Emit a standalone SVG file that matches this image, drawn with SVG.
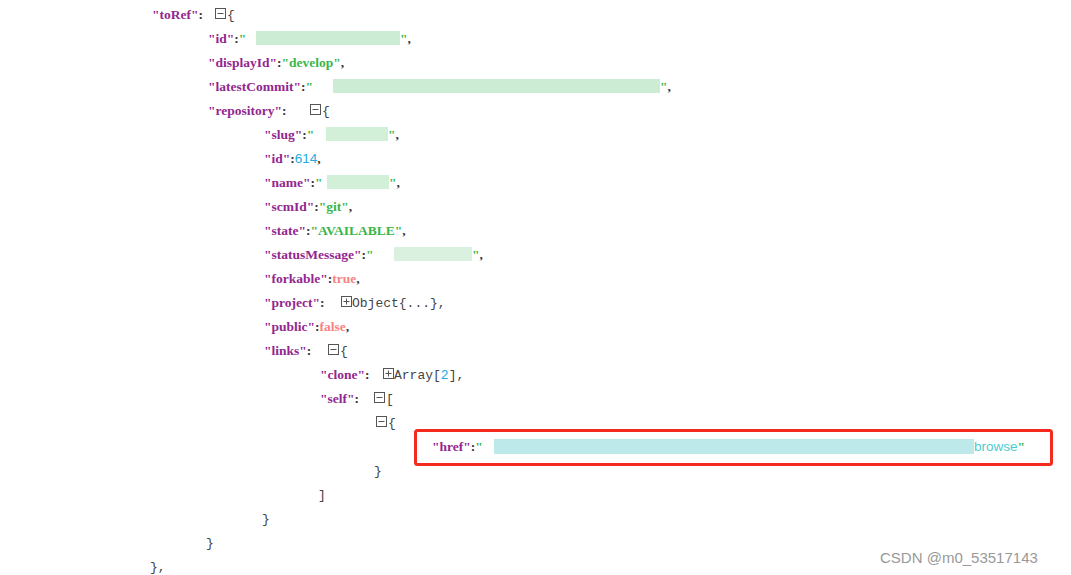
<svg xmlns="http://www.w3.org/2000/svg" width="1071" height="575" viewBox="0 0 1071 575">
<style>
text{font-family:"Liberation Serif","DejaVu Serif",serif;font-size:13.5px;font-weight:bold;fill:#333}
.k{fill:#92278f}.s{fill:#3ab54a}.n{fill:#25aae1;font-family:"Liberation Sans",sans-serif;font-weight:normal}.b{fill:#f98280}
.p{font-weight:normal;font-family:"Liberation Mono",monospace;font-size:13px;fill:#444}
.c{fill:#4ecbd0;font-family:"Liberation Sans",sans-serif;font-weight:normal}
.bg{fill:#bfe8c8}.bc{fill:#bde9ea}
</style>
<defs>
<symbol id="minus" viewBox="0 0 11 11"><rect x="0.5" y="0.5" width="10" height="10" fill="none" stroke="#555"/><line x1="2.5" y1="5.5" x2="8.5" y2="5.5" stroke="#555"/></symbol>
<symbol id="plus" viewBox="0 0 11 11"><rect x="0.5" y="0.5" width="10" height="10" fill="none" stroke="#555"/><line x1="2.5" y1="5.5" x2="8.5" y2="5.5" stroke="#555"/><line x1="5.5" y1="2.5" x2="5.5" y2="8.5" stroke="#555"/></symbol>
</defs>
<rect width="1071" height="575" fill="#fff"/>
<g id="blur">
<rect class="bg" x="256" y="31" width="144" height="14" opacity="0.8"/>
<rect class="bg" x="333" y="79" width="327" height="14" opacity="0.8"/>
<rect class="bg" x="326" y="127" width="62" height="14" opacity="0.7"/>
<rect class="bg" x="327" y="175" width="62" height="14" opacity="0.7"/>
<rect class="bg" x="394" y="247" width="78" height="14" opacity="0.6"/>
<rect class="bc" x="494" y="439" width="480" height="15"/>
</g>
<text x="152" y="19"><tspan class="k">"toRef"</tspan>:</text><use href="#minus" x="215" y="8" width="11" height="11"/><text class="p" x="227" y="19">{</text>
<text x="208" y="43"><tspan class="k">"id"</tspan>:<tspan class="s">"</tspan></text><text x="400" y="43"><tspan class="s">"</tspan>,</text>
<text x="208" y="67"><tspan class="k">"displayId"</tspan>:<tspan class="s">"develop"</tspan>,</text>
<text x="208" y="91"><tspan class="k">"latestCommit"</tspan>:<tspan class="s">"</tspan></text><text x="660" y="91"><tspan class="s">"</tspan>,</text>
<text x="208" y="115"><tspan class="k">"repository"</tspan>:</text><use href="#minus" x="310" y="104" width="11" height="11"/><text class="p" x="322" y="115">{</text>
<text x="264" y="139"><tspan class="k">"slug"</tspan>:<tspan class="s">"</tspan></text><text x="388" y="139"><tspan class="s">"</tspan>,</text>
<text x="264" y="163"><tspan class="k">"id"</tspan>:<tspan class="n">614</tspan>,</text>
<text x="264" y="187"><tspan class="k">"name"</tspan>:<tspan class="s">"</tspan></text><text x="389" y="187"><tspan class="s">"</tspan>,</text>
<text x="264" y="211"><tspan class="k">"scmId"</tspan>:<tspan class="s">"git"</tspan>,</text>
<text x="264" y="235"><tspan class="k">"state"</tspan>:<tspan class="s">"AVAILABLE"</tspan>,</text>
<text x="264" y="259"><tspan class="k">"statusMessage"</tspan>:<tspan class="s">"</tspan></text><text x="472" y="259"><tspan class="s">"</tspan>,</text>
<text x="264" y="283"><tspan class="k">"forkable"</tspan>:<tspan class="b">true</tspan>,</text>
<text x="264" y="307"><tspan class="k">"project"</tspan>:</text><use href="#plus" x="341" y="296" width="11" height="11"/><text class="p" x="352" y="307">Object{...},</text>
<text x="264" y="331"><tspan class="k">"public"</tspan>:<tspan class="b">false</tspan>,</text>
<text x="264" y="355"><tspan class="k">"links"</tspan>:</text><use href="#minus" x="328" y="344" width="11" height="11"/><text class="p" x="340" y="355">{</text>
<text x="320" y="379"><tspan class="k">"clone"</tspan>:</text><use href="#plus" x="383" y="368" width="11" height="11"/><text class="p" x="394" y="379">Array[<tspan fill="#25aae1">2</tspan>],</text>
<text x="320" y="403"><tspan class="k">"self"</tspan>:</text><use href="#minus" x="374" y="392" width="11" height="11"/><text class="p" x="386" y="403">[</text>
<use href="#minus" x="376" y="416" width="11" height="11"/><text class="p" x="388" y="427">{</text>
<text x="432" y="451"><tspan class="k">"href"</tspan>:<tspan class="s">"</tspan></text><text class="c" x="974" y="451">browse<tspan class="s" style="font-family:'Liberation Serif';font-weight:bold">"</tspan></text>
<text class="p" x="374" y="475">}</text>
<text class="p" x="318" y="499">]</text>
<text class="p" x="262" y="523">}</text>
<text class="p" x="206" y="547">}</text>
<text class="p" x="150" y="571">},</text>
<rect x="415.5" y="430.5" width="636" height="34" rx="2" fill="none" stroke="#f42a1e" stroke-width="3"/>
<text x="880" y="563" style="font-family:'Liberation Sans',sans-serif;font-weight:normal;font-size:15px;fill:#999">CSDN @m0_53517143</text>
</svg>
